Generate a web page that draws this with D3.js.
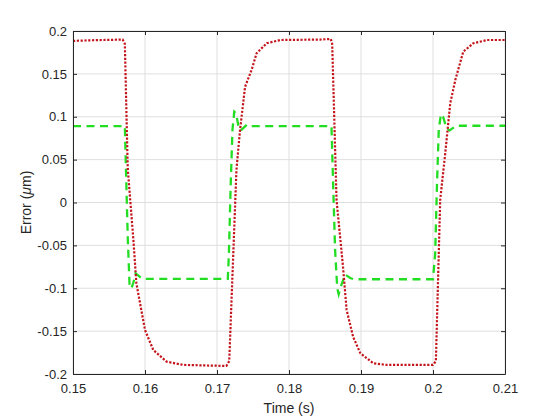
<!DOCTYPE html>
<html>
<head>
<meta charset="utf-8">
<script src="https://cdn.jsdelivr.net/npm/d3@7"></script>
<style>
    body { margin: 0; background: #fff; }
    text { font-family: "Liberation Sans", Arial, Helvetica, sans-serif; fill: #262626; }
</style>
</head>
<body>
<svg width="560" height="420"></svg>
<script>
// tick values
var xTicks = [0.15, 0.16, 0.17, 0.18, 0.19, 0.2, 0.21];
var yTicks = [-0.2, -0.15, -0.1, -0.05, 0, 0.05, 0.1, 0.15, 0.2];

// red dotted series (time, error)
var redTime = [0.150, 0.153, 0.1569, 0.1572, 0.1576, 0.1584, 0.1588, 0.1600, 0.16115, 0.1630, 0.1653, 0.1713,
    0.1717, 0.1727, 0.1732, 0.1739, 0.1748, 0.1755, 0.1769, 0.1788, 0.1843, 0.1858,
    0.1860, 0.1866, 0.1875, 0.1880, 0.1889, 0.1899, 0.1917, 0.1936, 0.2000,
    0.2004, 0.2010, 0.2017, 0.2024, 0.2031, 0.2042, 0.2056, 0.2075, 0.2100];
var redError = [0.1885, 0.1893, 0.1900, 0.185, 0.040, -0.045, -0.094, -0.1487, -0.172, -0.1856, -0.1894, -0.1906,
    -0.185, 0.038, 0.0846, 0.135, 0.1545, 0.174, 0.1857, 0.1895, 0.1900, 0.1907,
    0.185, 0.003, -0.0748, -0.1253, -0.1565, -0.1757, -0.1875, -0.1894, -0.1894,
    -0.185, 0.003, 0.0574, 0.116, 0.1429, 0.1759, 0.1857, 0.1895, 0.1895];

// green dashed series
var greenTime = [0.150, 0.1572, 0.15735, 0.1576, 0.15785, 0.1581, 0.1584, 0.1587, 0.1596, 0.1715,
    0.17165, 0.1719, 0.17215, 0.1724, 0.17265, 0.1730, 0.1733, 0.1742, 0.1748, 0.1859,
    0.1861, 0.1864, 0.1867, 0.1869, 0.1872, 0.1878, 0.1885, 0.1890, 0.2000,
    0.2003, 0.20055, 0.2008, 0.2011, 0.2014, 0.2019, 0.2023, 0.2032, 0.2100];
var greenError = [0.089, 0.089, 0.04, -0.04, -0.095, -0.1005, -0.093, -0.0825, -0.089, -0.089,
    -0.06, 0.02, 0.085, 0.106, 0.104, 0.088, 0.084, 0.091, 0.089, 0.089,
    0.03, -0.055, -0.100, -0.107, -0.098, -0.084, -0.088, -0.0895, -0.0895,
    -0.06, 0.02, 0.085, 0.103, 0.100, 0.086, 0.084, 0.0895, 0.0895];

var svg = d3.select('svg');
var padding = { t: 31, r: 55, b: 46, l: 73 };
var chartWidth = +svg.attr('width') - padding.l - padding.r;
var chartHeight = +svg.attr('height') - padding.t - padding.b;

var axisColor = '#262626';
var tickLen = 4;

var xScale = d3.scaleLinear().domain([0.15, 0.21]).range([0, chartWidth]);
var yScale = d3.scaleLinear().domain([-0.2, 0.2]).range([chartHeight, 0]);

var fmt = function(d) { return String(+d.toFixed(2)); };

var chartG = svg.append('g')
    .attr('transform', `translate(${padding.l}, ${padding.t})`);

// grid lines
chartG.append('g').attr('class', 'grid')
    .selectAll('line.gx')
    .data(xTicks)
    .enter().append('line')
    .attr('x1', d => xScale(d)).attr('x2', d => xScale(d))
    .attr('y1', 0).attr('y2', chartHeight)
    .attr('stroke', '#dfdfdf').attr('stroke-width', 1);

chartG.select('g.grid')
    .selectAll('line.gy')
    .data(yTicks)
    .enter().append('line')
    .attr('x1', 0).attr('x2', chartWidth)
    .attr('y1', d => yScale(d)).attr('y2', d => yScale(d))
    .attr('stroke', '#dfdfdf').attr('stroke-width', 1);

// lines
var lineGen = d3.line()
    .x(d => xScale(d[0]))
    .y(d => yScale(d[1]));

var greenPts = greenTime.map((t, i) => [t, greenError[i]]);
var redPts = redTime.map((t, i) => [t, redError[i]]);

chartG.append('path')
    .datum(greenPts)
    .attr('d', lineGen)
    .attr('fill', 'none')
    .attr('stroke', '#22dd22')
    .attr('stroke-width', 2.3)
    .attr('stroke-dasharray', '8,5.5');

chartG.append('path')
    .datum(redPts)
    .attr('d', lineGen)
    .attr('fill', 'none')
    .attr('stroke', '#c4151c')
    .attr('stroke-width', 2.2)
    .attr('stroke-dasharray', '2.2,1.6');

// axes: bottom/left with labels, top/right ticks only (inward)
chartG.append('g').attr('class', 'x-axis')
    .attr('transform', `translate(0, ${chartHeight})`)
    .call(d3.axisBottom(xScale).tickValues(xTicks).tickFormat(fmt).tickSizeInner(-tickLen).tickSizeOuter(0).tickPadding(10));

chartG.append('g').attr('class', 'x-axis-top')
    .call(d3.axisTop(xScale).tickValues(xTicks).tickFormat('').tickSizeInner(-tickLen).tickSizeOuter(0));

chartG.append('g').attr('class', 'y-axis')
    .call(d3.axisLeft(yScale).tickValues(yTicks).tickFormat(fmt).tickSizeInner(-tickLen).tickSizeOuter(0).tickPadding(6));

chartG.append('g').attr('class', 'y-axis-right')
    .attr('transform', `translate(${chartWidth}, 0)`)
    .call(d3.axisRight(yScale).tickValues(yTicks).tickFormat('').tickSizeInner(-tickLen).tickSizeOuter(0));

chartG.selectAll('.domain').attr('stroke', axisColor);
chartG.selectAll('.tick line').attr('stroke', axisColor);
chartG.selectAll('.tick text')
    .attr('fill', axisColor)
    .style('font-size', '13px')
    .style('font-family', '"Liberation Sans", Arial, Helvetica, sans-serif');

// axis titles
svg.append('text')
    .attr('x', padding.l + chartWidth / 2)
    .attr('y', 413)
    .attr('text-anchor', 'middle')
    .style('font-size', '14px')
    .text('Time (s)');

var yLabel = svg.append('text')
    .attr('transform', `translate(31, ${padding.t + chartHeight / 2}) rotate(-90)`)
    .attr('text-anchor', 'middle')
    .style('font-size', '14px');
yLabel.append('tspan').text('Error (');
yLabel.append('tspan').style('font-style', 'italic').text('\u03bc');
yLabel.append('tspan').text('m)');
</script>
</body>
</html>
